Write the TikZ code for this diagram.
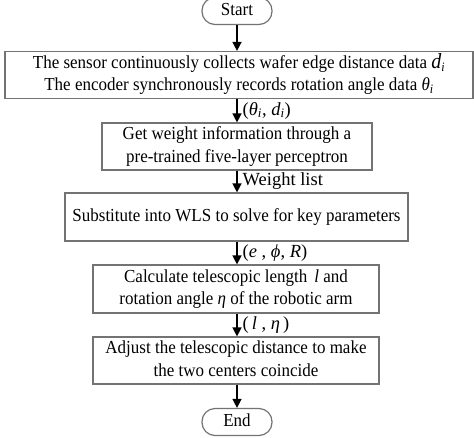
\documentclass[tikz,border=0pt]{standalone}
\usepackage{fontspec}
\usepackage{graphicx}
\setmainfont{Liberation Serif}
\usetikzlibrary{arrows.meta}
\newcommand{\vtx}[1]{\scalebox{1}[1.08]{\begin{tabular}{@{}c@{}}#1\end{tabular}}}
\begin{document}
\begin{tikzpicture}[x=1pt,y=-1pt,
  box/.style={draw=black!55, line width=1.2pt, fill=white, inner sep=0pt, align=center, font=\fontsize{17}{20.5}\selectfont},
  term/.style={box, rounded corners=13pt, minimum width=70pt, minimum height=27pt},
  arr/.style={-{Triangle[length=9pt,width=9pt]}, line width=1.4pt, black},
  lab/.style={right, inner sep=0pt, xshift=5pt, font=\fontsize{18.5}{20}\selectfont}]
\useasboundingbox (0,0) rectangle (474,437);
\node[term] (start) at (237,11) {\vtx{Start}};
\node[box, minimum width=468pt, minimum height=47pt] (b1) at (239,75) {\vtx{The sensor continuously collects wafer edge distance data {\fontsize{20}{22}\selectfont\textit{d}}\textsubscript{\textit{i}}\\ The encoder synchronously records rotation angle data \textit{θ}\textsubscript{\textit{i}}}};
\node[box, minimum width=270pt, minimum height=47pt] (b2) at (237,146.5) {\vtx{Get weight information through a\\ pre-trained five-layer perceptron}};
\node[box, minimum width=343pt, minimum height=48pt] (b3) at (236.5,217) {\vtx{Substitute into WLS to solve for key parameters}};
\node[box, minimum width=286pt, minimum height=48pt] (b4) at (236,289) {\vtx{Calculate telescopic length\, \textit{l} and\\ rotation angle \textit{η} of the robotic arm}};
\node[box, minimum width=286pt, minimum height=47pt] (b5) at (236,360.5) {\vtx{Adjust the telescopic distance to make\\ the two centers coincide}};
\node[term] (end) at (237,422) {\vtx{End}};
\draw[arr] (start.south) -- (start.south |- b1.north);
\draw[arr] (b1.south -| start) -- node[lab] {(\textit{θ}\textsubscript{\textit{i}}, \textit{d}\textsubscript{\textit{i}})} (b2.north -| start);
\draw[arr] (b2.south -| start) -- node[lab] {Weight list} (b3.north -| start);
\draw[arr] (b3.south -| start) -- node[lab] {(\textit{e} , \textit{ϕ}, \textit{R})} (b4.north -| start);
\draw[arr] (b4.south -| start) -- node[lab] {(\,\textit{l} ,\ \textit{η}\,)} (b5.north -| start);
\draw[arr] (b5.south -| start) -- (end.north);
\end{tikzpicture}
\end{document}
